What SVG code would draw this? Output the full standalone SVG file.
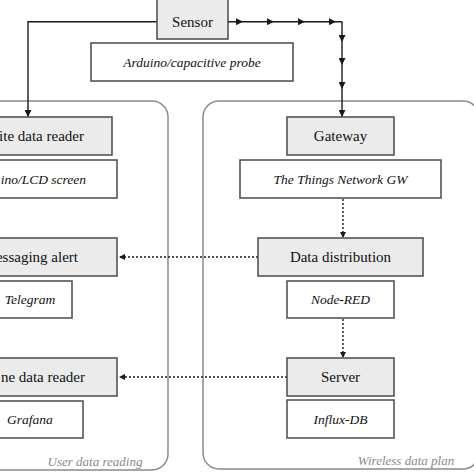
<svg xmlns="http://www.w3.org/2000/svg" width="474" height="474" viewBox="0 0 474 474">
<defs>
<marker id="ah" viewBox="0 0 10 10" refX="10" refY="5" markerWidth="7" markerHeight="7" markerUnits="userSpaceOnUse" orient="auto"><path d="M0,0 L10,5 L0,10 z" fill="#1a1a1a"/></marker>
<marker id="ahs" viewBox="0 0 10 10" refX="10" refY="5" markerWidth="6" markerHeight="6" markerUnits="userSpaceOnUse" orient="auto"><path d="M0,0 L10,5 L0,10 z" fill="#1a1a1a"/></marker>
<style>
.main{fill:#ebebeb;stroke:#4a4a4a;stroke-width:1.5}
.sub{fill:#ffffff;stroke:#4a4a4a;stroke-width:1.5}
.cont{fill:none;stroke:#8a8a8a;stroke-width:1.5}
.t{font-family:"Liberation Serif","Times New Roman",serif;font-size:15px;fill:#111}
.i{font-family:"Liberation Serif","Times New Roman",serif;font-size:13.5px;font-style:italic;fill:#111}
.c{font-family:"Liberation Serif","Times New Roman",serif;font-size:13px;font-style:italic;fill:#8a8a8a}
.ln{fill:none;stroke:#1a1a1a;stroke-width:1.4}
.dot{fill:none;stroke:#1a1a1a;stroke-width:1.4;stroke-dasharray:2 2}
</style>
</defs>
<g id="containers">
<rect class="cont" x="-20" y="101" width="188" height="369" rx="16"/>
<rect class="cont" x="203" y="101" width="276" height="368" rx="16"/>
<text class="c" x="95" y="466" text-anchor="middle">User data reading</text>
<text class="c" x="406" y="465" text-anchor="middle">Wireless data plan</text>
</g>
<g id="connectors">
<path class="ln" d="M157,21.7 L28,21.7 L28,117" marker-end="url(#ah)"/>
<path class="ln" d="M228,21.7 L243,21.7 L274,21.7 L305,21.7 L336,21.7 L342,21.7" marker-mid="url(#ah)"/>
<path class="ln" d="M342,21.7 L342,42 L342,65 L342,89 L342,117" marker-mid="url(#ah)" marker-end="url(#ah)"/>
<path class="dot" d="M343,199 L343,238" marker-end="url(#ahs)"/>
<path class="dot" d="M343,319 L343,358" marker-end="url(#ahs)"/>
<path class="dot" d="M258,257 L119,257" marker-end="url(#ahs)"/>
<path class="dot" d="M287,377 L119,377" marker-end="url(#ahs)"/>
</g>
<g id="sensor">
<rect class="main" x="157" y="-2" width="71" height="41"/>
<text class="t" x="192.5" y="27" text-anchor="middle">Sensor</text>
</g>
<g id="arduino-probe">
<rect class="sub" x="91" y="43" width="202" height="38"/>
<text class="i" x="192" y="67" text-anchor="middle">Arduino/capacitive probe</text>
</g>
<g id="onsite-reader">
<rect class="main" x="-20" y="117" width="132" height="38"/>
<text class="t" x="84" y="141" text-anchor="end">ite data reader</text>
</g>
<g id="lcd-screen">
<rect class="sub" x="-20" y="160" width="137" height="38"/>
<text class="i" x="86" y="184" text-anchor="end">ino/LCD screen</text>
</g>
<g id="messaging-alert">
<rect class="main" x="-20" y="238" width="137" height="38"/>
<text class="t" x="78" y="262" text-anchor="end">essaging alert</text>
</g>
<g id="telegram">
<rect class="sub" x="-12" y="281" width="84" height="37"/>
<text class="i" x="30" y="304" text-anchor="middle">Telegram</text>
</g>
<g id="online-reader">
<rect class="main" x="-20" y="358" width="137" height="38"/>
<text class="t" x="85" y="382" text-anchor="end">ne data reader</text>
</g>
<g id="grafana">
<rect class="sub" x="-23" y="401" width="106" height="37"/>
<text class="i" x="30" y="424" text-anchor="middle">Grafana</text>
</g>
<g id="gateway">
<rect class="main" x="287" y="117" width="107" height="38"/>
<text class="t" x="340.5" y="141" text-anchor="middle">Gateway</text>
</g>
<g id="ttn-gw">
<rect class="sub" x="240" y="160" width="201" height="38"/>
<text class="i" x="340.5" y="184" text-anchor="middle">The Things Network GW</text>
</g>
<g id="data-distribution">
<rect class="main" x="258" y="238" width="165" height="38"/>
<text class="t" x="340.5" y="262" text-anchor="middle">Data distribution</text>
</g>
<g id="node-red">
<rect class="sub" x="287" y="281" width="107" height="37"/>
<text class="i" x="340.5" y="304" text-anchor="middle">Node-RED</text>
</g>
<g id="server">
<rect class="main" x="287" y="358" width="107" height="38"/>
<text class="t" x="340.5" y="382" text-anchor="middle">Server</text>
</g>
<g id="influx-db">
<rect class="sub" x="287" y="400" width="107" height="38"/>
<text class="i" x="340.5" y="424" text-anchor="middle">Influx-DB</text>
</g>
</svg>
